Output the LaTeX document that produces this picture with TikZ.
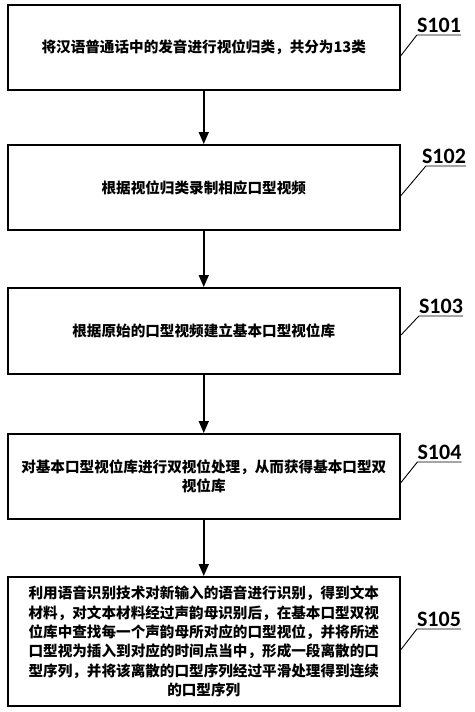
\documentclass[tikz,border=0pt]{standalone}
\usepackage{fontspec}
\newfontfamily\cjk{Noto Sans CJK SC}
\newfontfamily\lblfont{Carlito}
\usetikzlibrary{arrows.meta}
\tikzset{
  stepbox/.style={draw=black, line width=2pt, minimum width=392.5pt, inner sep=0pt, align=center,
    font=\cjk\bfseries\fontsize{14.6pt}{19.3pt}\selectfont, text=black},
  flow/.style={line width=1.6pt, -{Triangle[width=10pt,length=12pt]}},
  lbl/.style={anchor=south, inner xsep=0pt, inner ysep=2pt, font=\lblfont\bfseries\fontsize{22pt}{24pt}\selectfont},
  leader/.style={line width=0.9pt}
}
\begin{document}
\begin{tikzpicture}[x=1pt,y=-1pt]
\useasboundingbox (0,0) rectangle (474,712);
\node[stepbox, minimum height=85pt] (b1) at (203.75,47.5) {将汉语普通话中的发音进行视位归类，共分为13类};
\node[stepbox, minimum height=85pt] (b2) at (203.75,187.5) {根据视位归类录制相应口型视频};
\node[stepbox, minimum height=86pt] (b3) at (203.75,331) {根据原始的口型视频建立基本口型视位库};
\node[stepbox, minimum height=85pt] (b4) at (203.75,476.5) {对基本口型视位库进行双视位处理，从而获得基本口型双\\视位库};
\node[stepbox, minimum height=129pt] (b5) at (203.75,641.5) {利用语音识别技术对新输入的语音进行识别，得到文本\\材料，对文本材料经过声韵母识别后，在基本口型双视\\位库中查找每一个声韵母所对应的口型视位，并将所述\\口型视为插入到对应的时间点当中，形成一段离散的口\\型序列，并将该离散的口型序列经过平滑处理得到连续\\的口型序列};

\draw[flow] (b1.south) -- (b2.north);
\draw[flow] (b2.south) -- (b3.north);
\draw[flow] (b3.south) -- (b4.north);
\draw[flow] (b4.south) -- (b5.north);

\node[lbl] (l1) at (439,35) {S101};
\node[lbl] (l2) at (444,166) {S102};
\node[lbl] (l3) at (441,316) {S103};
\node[lbl] (l4) at (439.5,462) {S104};
\node[lbl] (l5) at (439,629) {S105};

\draw[leader] ([yshift=-8pt]b1.east) -- (l1.south west) -- (l1.south east);
\draw[leader] ([yshift=-8pt]b2.east) -- ([xshift=4pt]l2.south west) -- (l2.south east);
\draw[leader] ([yshift=-4pt]b3.east) -- (l3.south west) -- (l3.south east);
\draw[leader] ([yshift=-6pt]b4.east) -- (l4.south west) -- (l4.south east);
\draw[leader] ([yshift=-8pt]b5.east) -- (l5.south west) -- (l5.south east);
\end{tikzpicture}
\end{document}
